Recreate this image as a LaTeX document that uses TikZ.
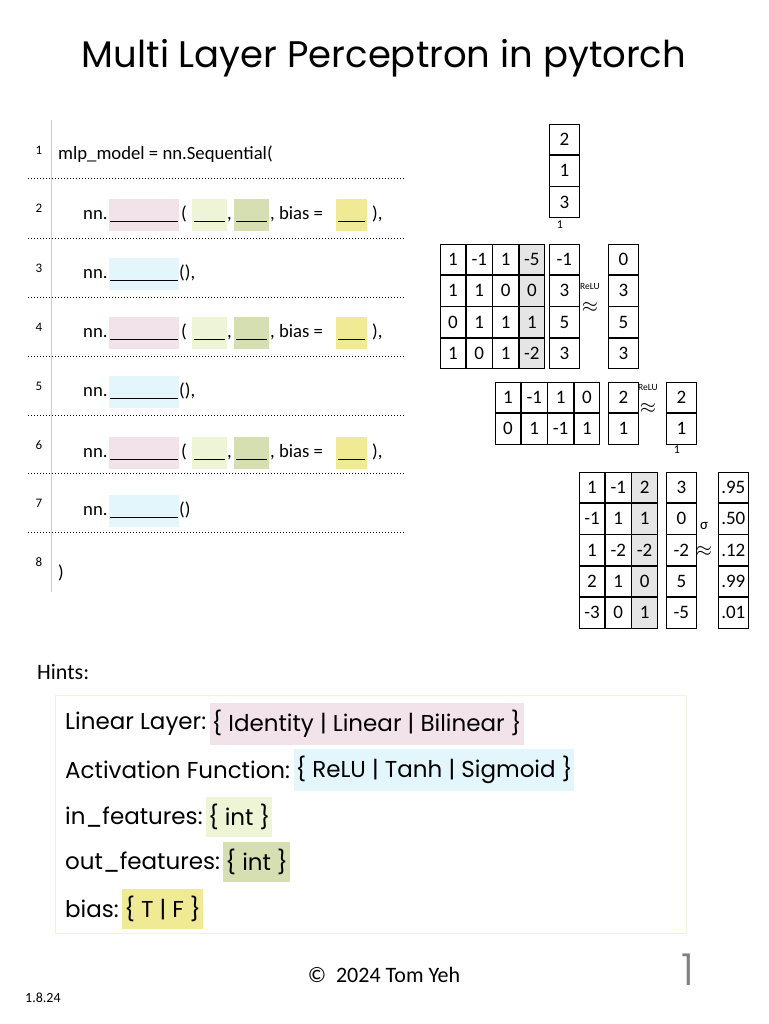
\documentclass[tikz,border=0pt]{standalone}
\usepackage{fontspec}
\setmainfont{Carlito}
\newfontfamily\hand{Poppins}
\newfontfamily\handlight{Poppins Light}
\usetikzlibrary{matrix}
\definecolor{cpink}{HTML}{F2E2E9}
\definecolor{clgreen}{HTML}{EEF5D7}
\definecolor{cdgreen}{HTML}{D6DFB2}
\definecolor{cyel}{HTML}{F0EA95}
\definecolor{ccyan}{HTML}{E2F6FB}
\definecolor{cbox}{HTML}{F3F3D8}
\begin{document}
\begin{tikzpicture}[x=1pt,y=-1pt,
  code/.style={anchor=base west,inner sep=0,font=\fontsize{18.7}{18.7}\selectfont},
  lnum/.style={anchor=base,inner sep=0,font=\fontsize{13}{13}\selectfont},
  blank/.style={line width=0.8pt},
  mat/.style={matrix of nodes,anchor=north west,column sep=-0.6pt,row sep=-0.6pt,
    nodes={draw,line width=1.1pt,minimum width=25.8pt,minimum height=30.8pt,inner sep=0,
      font=\fontsize{19}{19}\selectfont,anchor=center}},
  vec/.style={mat,nodes={draw,line width=1.1pt,minimum width=30.5pt,minimum height=30.8pt,inner sep=0,
      font=\fontsize{19}{19}\selectfont,anchor=center}},
  small/.style={inner sep=0,font=\fontsize{9.5}{9.5}\selectfont},
  apx/.style={inner sep=0,font=\fontsize{22}{22}\selectfont},
  hl/.style={anchor=west,inner ysep=7pt,inner xsep=2pt}]
\useasboundingbox (0,0) rectangle (768,1024);
% title
\node[inner sep=0,font=\hand\fontsize{37}{37}\selectfont] (title) at (384,58) {Multi Layer Perceptron in pytorch};
% code area
\draw[gray!40,line width=0.8pt] (51,120) coordinate (vt) -- (51,592) coordinate (vb);
\foreach \yy in {179,238,297,356,415,473,532}{
  \draw[line width=1pt,dotted] (28,\yy) -- (405,\yy);}
\foreach \n/\yy in {1/155,2/213,3/272,4/331,5/390,6/449,7/507,8/566}{
  \node[lnum] (n\n) at (39,\yy) {\n};}
\node[code] (l1) at (58,160) {mlp\_model = nn.Sequential(};
\node[code] (l8) at (58,578) {)};
% linear lines
\foreach \i/\b in {2/219,4/337,6/457}{
  \fill[cpink] (109,\b-20) rectangle (179,\b+12);
  \fill[clgreen] (192,\b-20) rectangle (227,\b+12);
  \fill[cdgreen] (234,\b-20) rectangle (269,\b+12);
  \fill[cyel] (336,\b-20) rectangle (367,\b+12);
  \foreach \a/\c in {110/178,194/225,236/267,338/365}{\draw[blank] (\a,\b+2) -- (\c,\b+2);}
  \node[code] (a\i) at (83,\b) {nn.};
  \node[code] (p\i) at (181,\b) {(};
  \node[code] (c\i) at (227,\b) {,};
  \node[code] (bb\i) at (270,\b) {, bias =};
  \node[code] (e\i) at (372,\b) {),};
}
\foreach \i/\b/\e in {3/278/{(),},5/396/{(),},7/515/{()}}{
  \fill[ccyan] (109,\b-20) rectangle (179,\b+12);
  \draw[blank] (110,\b+2) -- (178,\b+2);
  \node[code] (a\i) at (83,\b) {nn.};
  \node[code] (e\i) at (179,\b) {\e};
}
% matrices
\matrix[vec] (x0) at (545,120) {2\\1\\3\\};
\node[small,font=\fontsize{12}{12}\selectfont] (one0) at (560,225) {1};
\matrix[mat,column 4/.style={nodes={fill=gray!20}}] (W1) at (436,240) {1&-1&1&-5\\1&1&0&0\\0&1&1&1\\1&0&1&-2\\};
\matrix[vec] (z1) at (545,240) {-1\\3\\5\\3\\};
\node[small] (r1) at (590,286) {ReLU};
\node[apx] (ap1) at (590,307) {$\approx$};
\matrix[vec] (h1) at (604,240) {0\\3\\5\\3\\};
\matrix[mat] (W2) at (491,378) {1&-1&1&0\\0&1&-1&1\\};
\matrix[vec] (z2) at (604,378) {2\\1\\};
\node[small] (r2) at (648,387) {ReLU};
\node[apx] (ap2) at (648,408) {$\approx$};
\matrix[vec] (h2) at (662,378) {2\\1\\};
\node[small,font=\fontsize{12}{12}\selectfont] (one2) at (677,450) {1};
\matrix[mat,column 3/.style={nodes={fill=gray!20}}] (W3) at (575,468) {1&-1&2\\-1&1&1\\1&-2&-2\\2&1&0\\-3&0&1\\};
\matrix[vec] (z3) at (662,468) {3\\0\\-2\\5\\-5\\};
\node[small,font=\fontsize{15}{15}\selectfont] (sg) at (704,526) {σ};
\node[apx] (ap3) at (704,551) {$\approx$};
\matrix[vec] (y3) at (714,468) {.95\\.50\\.12\\.99\\.01\\};
% hints
\node[anchor=west,inner sep=0,font=\fontsize{22}{22}\selectfont] (hints) at (37,672) {Hints:};
\draw[cbox,line width=1pt] (55,695) rectangle (686,933);
\begin{scope}[every node/.style={inner sep=0,font=\hand\fontsize{23}{23}\selectfont}]
\node[anchor=west] (h1l) at (65,724) {Linear Layer:};
\node[hl,fill=cpink] (h1r) at ([xshift=3pt]h1l.east) {\{ Identity | Linear | Bilinear \}};
\node[anchor=west] (h2l) at (65,770) {Activation Function:};
\node[hl,fill=ccyan] (h2r) at ([xshift=3pt]h2l.east) {\{ ReLU | Tanh | Sigmoid \}};
\node[anchor=west] (h3l) at (65,817) {in\_features:};
\node[hl,fill=clgreen] (h3r) at ([xshift=3pt]h3l.east) {\{ int \}};
\node[anchor=west] (h4l) at (65,862) {out\_features:};
\node[hl,fill=cdgreen] (h4r) at ([xshift=3pt]h4l.east) {\{ int \}};
\node[anchor=west] (h5l) at (65,909) {bias:};
\node[hl,fill=cyel] (h5r) at ([xshift=3pt]h5l.east) {\{ T | F \}};
\end{scope}
% footer
\node[inner sep=0,font=\fontsize{22}{22}\selectfont] (copy) at (384,975) {©\ \ 2024 Tom Yeh};
\node[inner sep=0,text=gray,font=\handlight\fontsize{44}{44}\selectfont] (pg) at (688,970) {1};
\node[anchor=west,inner sep=0,font=\fontsize{14}{14}\selectfont] (date) at (25,998) {1.8.24};
\end{tikzpicture}
\end{document}
